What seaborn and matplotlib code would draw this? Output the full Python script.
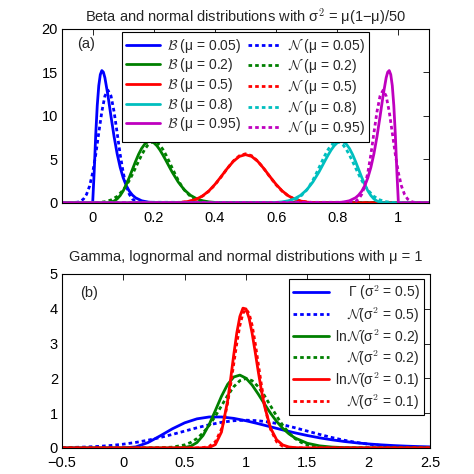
import matplotlib
matplotlib.use('Agg')
import matplotlib.pyplot as plt
import seaborn as sns

# ---- panel (a): beta and normal densities ----
beta_005_x = [-0.1, 0, 0.005, 0.01, 0.015, 0.02, 0.025, 0.03, 0.035, 0.04, 0.05, 0.06, 0.07, 0.08,
              0.09, 0.10, 0.11, 0.12, 0.13, 0.14, 0.16, 0.18, 0.20, 0.25, 1.1]
beta_005_y = [0, 0, 3.61, 7.83, 11.20, 13.48, 14.75, 15.21, 15.03, 14.39, 12.35, 9.93, 7.63, 5.66,
              4.08, 2.87, 1.98, 1.34, 0.90, 0.59, 0.245, 0.097, 0.037, 0.002, 0]
norm_005_x = [-0.1, -0.05, -0.04, -0.03, -0.02, -0.01, 0, 0.01, 0.02, 0.03, 0.04, 0.05, 0.06, 0.07,
              0.08, 0.09, 0.10, 0.11, 0.12, 0.13, 0.14, 0.15, 1.1]
norm_005_y = [0, 0.07, 0.18, 0.44, 0.98, 1.94, 3.46, 5.56, 8.06, 10.49, 12.29, 12.95, 12.29, 10.49,
              8.06, 5.56, 3.46, 1.94, 0.98, 0.44, 0.18, 0.07, 0]

beta_02_x = [-0.1, 0.02, 0.04, 0.05, 0.06, 0.07, 0.08, 0.09, 0.10, 0.11, 0.12, 0.13, 0.14, 0.15,
             0.16, 0.17, 0.18, 0.19, 0.20, 0.21, 0.22, 0.23, 0.24, 0.25, 0.26, 0.28, 0.30, 0.32,
             0.34, 0.36, 0.38, 0.40, 0.44, 0.50, 1.1]
beta_02_y = [0, 0, 0.005, 0.025, 0.082, 0.211, 0.453, 0.841, 1.394, 2.11, 2.94, 3.84, 4.74, 5.57,
             6.25, 6.74, 7.02, 7.07, 6.91, 6.57, 6.08, 5.49, 4.85, 4.19, 3.54, 2.39, 1.49, 0.87,
             0.474, 0.242, 0.116, 0.052, 0.009, 0.001, 0]
norm_02_x = [-0.1, 0.0, 0.02, 0.04, 0.06, 0.08, 0.10, 0.11, 0.12, 0.13, 0.14, 0.15, 0.16, 0.17,
             0.18, 0.19, 0.20, 0.21, 0.22, 0.23, 0.24, 0.25, 0.26, 0.27, 0.28, 0.29, 0.30, 0.32,
             0.34, 0.36, 0.38, 0.40, 1.1]
norm_02_y = [0, 0.013, 0.045, 0.13, 0.33, 0.74, 1.48, 1.99, 2.59, 3.28, 4.02, 4.77, 5.49, 6.13,
             6.62, 6.94, 7.05, 6.94, 6.62, 6.13, 5.49, 4.77, 4.02, 3.28, 2.59, 1.99, 1.48, 0.74,
             0.33, 0.13, 0.045, 0.013, 0]

beta_05_x = [-0.1, 0.20, 0.22, 0.24, 0.26, 0.28, 0.30, 0.32, 0.34, 0.36, 0.38, 0.40, 0.42, 0.44,
             0.46, 0.48, 0.50, 0.52, 0.54, 0.56, 0.58, 0.60, 0.62, 0.64, 0.66, 0.68, 0.70, 0.72,
             0.74, 0.76, 0.78, 0.80, 1.1]
beta_05_y = [0, 0.0, 0.001, 0.003, 0.012, 0.035, 0.092, 0.213, 0.438, 0.814, 1.375, 2.125, 3.015,
             3.944, 4.770, 5.341, 5.546, 5.341, 4.770, 3.944, 3.015, 2.125, 1.375, 0.814, 0.438,
             0.213, 0.092, 0.035, 0.012, 0.003, 0.001, 0.0, 0]
norm_05_x = beta_05_x
norm_05_y = [0, 0.0007, 0.002, 0.0065, 0.018, 0.0446, 0.103, 0.221, 0.436, 0.795, 1.337, 2.076,
             2.975, 3.936, 4.808, 5.421, 5.642, 5.421, 4.808, 3.936, 2.975, 2.076, 1.337, 0.795,
             0.436, 0.221, 0.103, 0.0446, 0.018, 0.0065, 0.002, 0.0007, 0]

beta_08_x = [-0.1, 0.50, 0.56, 0.60, 0.62, 0.64, 0.66, 0.68, 0.70, 0.72, 0.74, 0.75, 0.76, 0.77,
             0.78, 0.79, 0.80, 0.81, 0.82, 0.83, 0.84, 0.85, 0.86, 0.87, 0.88, 0.89, 0.90, 0.91,
             0.92, 0.93, 0.94, 0.95, 0.96, 0.98, 1.1]
beta_08_y = [0, 0.001, 0.009, 0.052, 0.116, 0.242, 0.474, 0.87, 1.49, 2.39, 3.54, 4.19, 4.85, 5.49,
             6.08, 6.57, 6.91, 7.07, 7.02, 6.74, 6.25, 5.57, 4.74, 3.84, 2.94, 2.11, 1.394, 0.841,
             0.453, 0.211, 0.082, 0.025, 0.005, 0, 0]
norm_08_x = [-0.1, 0.60, 0.62, 0.64, 0.66, 0.68, 0.70, 0.71, 0.72, 0.73, 0.74, 0.75, 0.76, 0.77,
             0.78, 0.79, 0.80, 0.81, 0.82, 0.83, 0.84, 0.85, 0.86, 0.87, 0.88, 0.89, 0.90, 0.92,
             0.94, 0.96, 0.98, 1.00, 1.1]
norm_08_y = [0, 0.013, 0.045, 0.13, 0.33, 0.74, 1.48, 1.99, 2.59, 3.28, 4.02, 4.77, 5.49, 6.13,
             6.62, 6.94, 7.05, 6.94, 6.62, 6.13, 5.49, 4.77, 4.02, 3.28, 2.59, 1.99, 1.48, 0.74,
             0.33, 0.13, 0.045, 0.013, 0]

beta_095_x = [-0.1, 0.75, 0.80, 0.82, 0.84, 0.86, 0.87, 0.88, 0.89, 0.90, 0.91, 0.92, 0.93, 0.94,
              0.95, 0.96, 0.965, 0.97, 0.975, 0.98, 0.985, 0.99, 0.995, 1.0, 1.1]
beta_095_y = [0, 0.002, 0.037, 0.097, 0.245, 0.59, 0.90, 1.34, 1.98, 2.87, 4.08, 5.66, 7.63, 9.93,
              12.35, 14.39, 15.03, 15.21, 14.75, 13.48, 11.20, 7.83, 3.61, 0, 0]
norm_095_x = [-0.1, 0.85, 0.86, 0.87, 0.88, 0.89, 0.90, 0.91, 0.92, 0.93, 0.94, 0.95, 0.96, 0.97,
              0.98, 0.99, 1.00, 1.01, 1.02, 1.03, 1.04, 1.05, 1.1]
norm_095_y = [0, 0.07, 0.18, 0.44, 0.98, 1.94, 3.46, 5.56, 8.06, 10.49, 12.29, 12.95, 12.29, 10.49,
              8.06, 5.56, 3.46, 1.94, 0.98, 0.44, 0.18, 0.07, 0]

mu_labels = ['0.05', '0.2', '0.5', '0.8', '0.95']

# ---- panel (b): gamma, lognormal and normal densities ----
gamma_x = [-0.5, 0.0, 0.1, 0.2, 0.3, 0.4, 0.5, 0.6, 0.7, 0.8, 0.9, 1.0, 1.1, 1.2, 1.3, 1.4, 1.5,
           1.6, 1.7, 1.8, 1.9, 2.0, 2.1, 2.2, 2.3, 2.4, 2.5]
gamma_y = [0, 0, 0.0286, 0.1534, 0.347, 0.551, 0.722, 0.836, 0.890, 0.890, 0.850, 0.781, 0.697,
           0.607, 0.517, 0.433, 0.357, 0.290, 0.2335, 0.1858, 0.1465, 0.1145, 0.0889, 0.0685,
           0.0524, 0.0399, 0.0303]
norm_s05_x = [-0.5, -0.4, -0.3, -0.2, -0.1, 0.0, 0.1, 0.2, 0.3, 0.4, 0.5, 0.6, 0.7, 0.8, 0.9, 1.0,
              1.1, 1.2, 1.3, 1.4, 1.5, 1.6, 1.7, 1.8, 1.9, 2.0, 2.1, 2.2, 2.3, 2.4, 2.5]
norm_s05_y = [0.0089, 0.0158, 0.0272, 0.0448, 0.0710, 0.1080, 0.1579, 0.2218, 0.2995, 0.3884,
              0.4839, 0.5794, 0.6664, 0.7365, 0.7821, 0.7979, 0.7821, 0.7365, 0.6664, 0.5794,
              0.4839, 0.3884, 0.2995, 0.2218, 0.1579, 0.1080, 0.0710, 0.0448, 0.0272, 0.0158, 0.0089]

lnorm_s02_x = [-0.5, 0.3, 0.4, 0.5, 0.55, 0.6, 0.65, 0.7, 0.75, 0.8, 0.85, 0.9, 0.95, 1.0, 1.05,
               1.1, 1.15, 1.2, 1.25, 1.3, 1.35, 1.4, 1.5, 1.6, 1.7, 1.8, 2.0, 2.5]
lnorm_s02_y = [0, 0, 0.0002, 0.0124, 0.0516, 0.1549, 0.3591, 0.6762, 1.0746, 1.4850, 1.8267,
               2.0380, 2.0935, 2.0046, 1.8074, 1.5476, 1.2671, 0.9982, 0.7603, 0.5624, 0.4054,
               0.2858, 0.1342, 0.0592, 0.0250, 0.0101, 0.0016, 0]
norm_s02_x = [-0.5, 0.2, 0.3, 0.4, 0.5, 0.55, 0.6, 0.65, 0.7, 0.75, 0.8, 0.85, 0.9, 0.95, 1.0,
              1.05, 1.1, 1.15, 1.2, 1.25, 1.3, 1.35, 1.4, 1.45, 1.5, 1.6, 1.7, 1.8, 2.5]
norm_s02_y = [0, 0.0007, 0.0044, 0.0222, 0.0876, 0.159, 0.270, 0.432, 0.648, 0.913, 1.210, 1.506,
              1.760, 1.933, 1.9947, 1.933, 1.760, 1.506, 1.210, 0.913, 0.648, 0.432, 0.270, 0.159,
              0.0876, 0.0222, 0.0044, 0.0007, 0]

lnorm_s01_x = [-0.5, 0.6, 0.7, 0.75, 0.8, 0.85, 0.875, 0.9, 0.925, 0.95, 0.975, 1.0, 1.025, 1.05,
               1.075, 1.1, 1.125, 1.15, 1.2, 1.25, 1.3, 1.35, 1.4, 1.5, 2.5]
lnorm_s01_y = [0, 0.0, 0.0114, 0.0961, 0.4573, 1.3518, 1.9920, 2.6782, 3.3081, 3.7796, 4.0175,
               3.9944, 3.7330, 3.2940, 2.7555, 2.1935, 1.6671, 1.2138, 0.5719, 0.2341, 0.0848,
               0.0276, 0.0082, 0.0006, 0]
norm_s01_x = [-0.5, 0.5, 0.6, 0.65, 0.7, 0.75, 0.8, 0.825, 0.85, 0.875, 0.9, 0.925, 0.95, 0.975,
              1.0, 1.025, 1.05, 1.075, 1.1, 1.125, 1.15, 1.175, 1.2, 1.25, 1.3, 1.35, 1.4, 1.5, 2.5]
norm_s01_y = [0, 0, 0.0013, 0.0087, 0.0443, 0.1753, 0.5399, 0.8628, 1.2952, 1.8265, 2.4197,
              3.0114, 3.5207, 3.8667, 3.9894, 3.8667, 3.5207, 3.0114, 2.4197, 1.8265, 1.2952,
              0.8628, 0.5399, 0.1753, 0.0443, 0.0087, 0.0013, 0, 0]

# matlab-ish colours
colors_a = ['#0000ff', '#008000', '#ff0000', '#00bfbf', '#bf00bf']
colors_b = ['#0000ff', '#008000', '#ff0000']
dotted = (0, (1.3, 1.1))

sns.set_style('white')
plt.rcParams['font.family'] = ['Liberation Sans', 'DejaVu Sans']
plt.rcParams['mathtext.fontset'] = 'cm'
plt.rcParams['mathtext.rm'] = 'Liberation Sans'

fig = plt.figure(figsize=(4.74, 4.74), dpi=100)
ax1 = fig.add_axes([0.131, 0.572, 0.774, 0.367])
ax2 = fig.add_axes([0.131, 0.055, 0.776, 0.367])

# --- panel (a)
beta_a = [(beta_005_x, beta_005_y), (beta_02_x, beta_02_y), (beta_05_x, beta_05_y),
          (beta_08_x, beta_08_y), (beta_095_x, beta_095_y)]
norm_a = [(norm_005_x, norm_005_y), (norm_02_x, norm_02_y), (norm_05_x, norm_05_y),
          (norm_08_x, norm_08_y), (norm_095_x, norm_095_y)]
b_handles, n_handles = [], []
for i, mu in enumerate(mu_labels):
    bx, by = beta_a[i]
    nx, ny = norm_a[i]
    sns.lineplot(x=bx, y=by, ax=ax1, color=colors_a[i], lw=2, legend=False)
    b_handles.append(ax1.lines[-1])
    b_handles[-1].set_label(r'$\mathcal{B}$ (μ = ' + mu + ')')
    sns.lineplot(x=nx, y=ny, ax=ax1, color=colors_a[i], lw=2, linestyle=dotted, legend=False)
    n_handles.append(ax1.lines[-1])
    n_handles[-1].set_label(r'$\mathcal{N}$ (μ = ' + mu + ')')

ax1.set_xlim(-0.1, 1.1)
ax1.set_ylim(0, 20)
ax1.set_xticks([0, 0.2, 0.4, 0.6, 0.8, 1])
ax1.set_xticklabels(['0', '0.2', '0.4', '0.6', '0.8', '1'])
ax1.set_yticks([0, 5, 10, 15, 20])
ax1.set_title(r'Beta and normal distributions with σ$^2$ = μ(1−μ)/50', fontsize=10.5, pad=5)
ax1.text(0.04, 0.89, '(a)', transform=ax1.transAxes, fontsize=10.5)
leg1 = ax1.legend(handles=b_handles + n_handles, ncol=2, loc='upper center',
                  bbox_to_anchor=(0.5, 0.985), fontsize=10, frameon=True, fancybox=False,
                  edgecolor='black', framealpha=1, handlelength=2.4, handletextpad=0.5,
                  columnspacing=0.5, labelspacing=0.12, borderpad=0.3, borderaxespad=0)
leg1.get_frame().set_linewidth(0.8)

# --- panel (b)
curves_b = [(gamma_x, gamma_y, '-', colors_b[0], r'Γ (σ$^2$ = 0.5)'),
            (norm_s05_x, norm_s05_y, dotted, colors_b[0], r'$\mathcal{N}$(σ$^2$ = 0.5)'),
            (lnorm_s02_x, lnorm_s02_y, '-', colors_b[1], r'ln$\,\mathcal{N}$(σ$^2$ = 0.2)'),
            (norm_s02_x, norm_s02_y, dotted, colors_b[1], r'$\mathcal{N}$(σ$^2$ = 0.2)'),
            (lnorm_s01_x, lnorm_s01_y, '-', colors_b[2], r'ln$\,\mathcal{N}$(σ$^2$ = 0.1)'),
            (norm_s01_x, norm_s01_y, dotted, colors_b[2], r'$\mathcal{N}$(σ$^2$ = 0.1)')]
handles_b = []
for x, y, ls, c, lab in curves_b:
    sns.lineplot(x=x, y=y, ax=ax2, color=c, lw=2, linestyle=ls, legend=False)
    handles_b.append(ax2.lines[-1])
    handles_b[-1].set_label(lab)

ax2.set_xlim(-0.5, 2.5)
ax2.set_ylim(0, 5)
ax2.set_xticks([-0.5, 0, 0.5, 1, 1.5, 2, 2.5])
ax2.set_xticklabels(['−0.5', '0', '0.5', '1', '1.5', '2', '2.5'])
ax2.set_yticks([0, 1, 2, 3, 4, 5])
ax2.set_title('Gamma, lognormal and normal distributions with μ = 1', fontsize=10.5, pad=9)
ax2.text(0.05, 0.87, '(b)', transform=ax2.transAxes, fontsize=10.5)
leg2 = ax2.legend(handles=handles_b, loc='upper right', bbox_to_anchor=(0.983, 0.97),
                  fontsize=10, frameon=True, fancybox=False, edgecolor='black', framealpha=1,
                  handlelength=2.6, handletextpad=0.4, labelspacing=0.2, borderpad=0.3,
                  borderaxespad=0)
leg2.get_frame().set_linewidth(0.8)

for ax in (ax1, ax2):
    ax.tick_params(direction='in', top=True, right=True, length=4, width=0.6,
                   labelsize=10.5, colors='black')
    ax.tick_params(axis='x', pad=6)
    ax.tick_params(axis='y', pad=3)
    for s in ax.spines.values():
        s.set_color('black')
        s.set_linewidth(0.8)

# right-align the text in legend (b) like matlab does
fig.canvas.draw()
rend = fig.canvas.get_renderer()
rows = [r for col in leg2._legend_handle_box.get_children() for r in col.get_children()]
w = max(r.get_bbox(rend).width for r in rows)
for r in rows:
    r.mode = 'expand'
    r.width = w

fig.savefig('out.png', dpi=100)
